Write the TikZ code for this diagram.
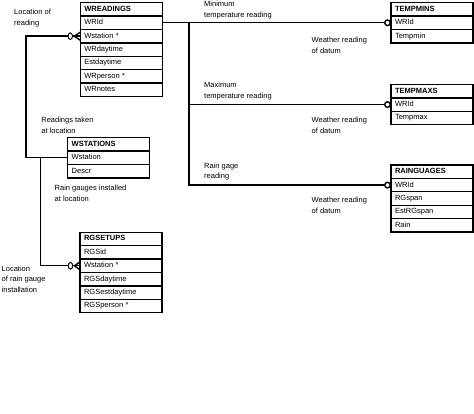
\documentclass[tikz,border=0pt]{standalone}
\usepackage{fontspec}
\setmainfont{Liberation Sans}
\usetikzlibrary{positioning,calc,arrows.meta}

\begin{document}
\begin{tikzpicture}[x=1pt,y=-1pt,line width=1.4pt,
  every node/.style={font=\fontsize{7.5}{10.7}\selectfont},
  row/.style={draw,line width=1.3pt,text width=74pt,inner xsep=4pt,inner ysep=0pt,outer sep=0pt,
    minimum height=13.4pt,text height=5.5pt,text depth=1.6pt,align=left},
  head/.style={row,anchor=north west,font=\fontsize{7.5}{10.7}\selectfont\bfseries},
  lbl/.style={anchor=north west,inner sep=0pt,align=left},
  opentip/.style={-{Circle[open,length=7pt,width=7pt]}}]

\fill[white] (0,0) rectangle (474,414);
\useasboundingbox (0,0) rectangle (474,414);

% weather readings
\node[head] (wr0) at (80.3,2.7) {WREADINGS};
\node[row,below=0pt of wr0] (wr1) {WRId};
\node[row,below=0pt of wr1] (wr2) {Wstation *};
\node[row,below=0pt of wr2] (wr3) {WRdaytime};
\node[row,below=0pt of wr3] (wr4) {Estdaytime};
\node[row,below=0pt of wr4] (wr5) {WRperson *};
\node[row,below=0pt of wr5] (wr6) {WRnotes};

% stations
\node[head] (wst0) at (67.7,137.7) {WSTATIONS};
\node[row,below=0pt of wst0] (wst1) {Wstation};
\node[row,below=0pt of wst1] (wst2) {Descr};

% rain gauge setups
\node[head] (rg0) at (80,232.3) {RGSETUPS};
\node[row,below=0pt of rg0] (rg1) {RGSid};
\node[row,below=0pt of rg1] (rg2) {Wstation *};
\node[row,below=0pt of rg2] (rg3) {RGSdaytime};
\node[row,below=0pt of rg3] (rg4) {RGSestdaytime};
\node[row,below=0pt of rg4] (rg5) {RGSperson *};

% readings on the right
\node[head] (tmin0) at (391,2.7) {TEMPMINS};
\node[row,below=0pt of tmin0] (tmin1) {WRId};
\node[row,below=0pt of tmin1] (tmin2) {Tempmin};

\node[head] (tmax0) at (391,84.5) {TEMPMAXS};
\node[row,below=0pt of tmax0] (tmax1) {WRId};
\node[row,below=0pt of tmax1] (tmax2) {Tempmax};

\node[head] (rain0) at (391,165) {RAINGUAGES};
\node[row,below=0pt of rain0] (rain1) {WRId};
\node[row,below=0pt of rain1] (rain2) {RGspan};
\node[row,below=0pt of rain2] (rain3) {EstRGspan};
\node[row,below=0pt of rain3] (rain4) {Rain};

% connectors
\draw[opentip] (wr1.east) -- (tmin1.west);
\coordinate (split) at ($(wr1.east)+(26.5,0)$);
\draw[opentip] (split) |- (tmax1.west);
\draw[opentip] (split) |- (rain1.west);

\draw (wr2.west) -- ++(-54.3,0) |- (wst1.west);
\coordinate (branch) at ($(wst1.west)+(-27,0)$);
\draw (branch) |- (rg2.west);

% zero or many ends
\draw[fill=white,line width=1pt] ($(wr2.west)+(-10,0)$) ellipse (2.2 and 3.3);
\draw ($(wr2.west)+(-6,0)$) -- ($(wr2.west)+(0,-4)$)
      ($(wr2.west)+(-6,0)$) -- ($(wr2.west)+(0,4)$);
\draw[fill=white,line width=1pt] ($(rg2.west)+(-9.5,0)$) ellipse (2.2 and 3.3);
\draw ($(rg2.west)+(-5.5,0)$) -- ($(rg2.west)+(0,-4)$)
      ($(rg2.west)+(-5.5,0)$) -- ($(rg2.west)+(0,4)$);

% labels
\node[lbl] (l-loc) at (13.5,8.8) {Location of\\reading};
\node[lbl] (l-min) at (203.5,0.8) {Minimum\\temperature reading};
\node[lbl] (l-max) at (203.5,81.5) {Maximum\\temperature reading};
\node[lbl] (l-rg) at (203.5,162) {Rain gage\\reading};
\node[lbl] (l-wd1) at (311,36.3) {Weather reading\\of datum};
\node[lbl] (l-wd2) at (311,116.3) {Weather reading\\of datum};
\node[lbl] (l-wd3) at (311,196.3) {Weather reading\\of datum};
\node[lbl] (l-taken) at (40.7,116.5) {Readings taken\\at location};
\node[lbl] (l-inst) at (54,184.3) {Rain gauges installed\\at location};
\node[lbl] (l-rgloc) at (1,265) {Location\\of rain gauge\\installation};

\end{tikzpicture}
\end{document}
